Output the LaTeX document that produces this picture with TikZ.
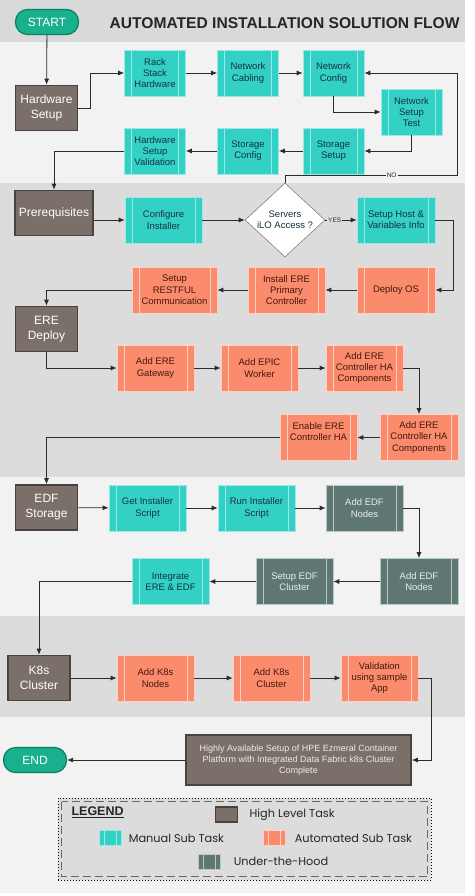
\documentclass[tikz,border=0pt]{standalone}
\usepackage{fontspec}
\setmainfont{Liberation Sans}
\newfontfamily\legfont{Poppins}
\usetikzlibrary{arrows.meta, positioning, shapes.geometric}
\definecolor{BandTitle}{HTML}{D9D9D9}
\definecolor{BandLight}{HTML}{F2F2F2}
\definecolor{BandDark}{HTML}{DCDCDC}
\definecolor{Manual}{HTML}{33D0C6}
\definecolor{ManualLine}{HTML}{9AEAE3}
\definecolor{ManualText}{HTML}{17323F}
\definecolor{Auto}{HTML}{FA8B6C}
\definecolor{AutoLine}{HTML}{FDD0C2}
\definecolor{AutoText}{HTML}{45180E}
\definecolor{Hood}{HTML}{5F7773}
\definecolor{HoodLine}{HTML}{B9CAC6}
\definecolor{HoodText}{HTML}{E8EEEC}
\definecolor{HighLvl}{HTML}{7B6F69}
\definecolor{HighEdge}{HTML}{4B423E}
\definecolor{Pill}{HTML}{19B08D}
\definecolor{PillEdge}{HTML}{0B7F62}
\definecolor{FlowLine}{HTML}{2B2B2B}

\begin{document}
\begin{tikzpicture}[
  x=1pt, y=-1pt,
  font=\fontsize{9.5}{11.3}\selectfont,
  sidebars/.style 2 args={path picture={
    \draw[#1, line width=0.8pt]
      ([xshift=#2]path picture bounding box.north west) -- ([xshift=#2]path picture bounding box.south west)
      ([xshift=-#2]path picture bounding box.north east) -- ([xshift=-#2]path picture bounding box.south east);}},
  task/.style={rectangle, minimum width=77pt, minimum height=46pt, inner sep=0pt,
               align=center, line width=0.6pt},
  manual/.style={task, fill=Manual, draw=ManualLine, text=ManualText, sidebars={ManualLine}{7pt}},
  auto/.style={task, fill=Auto, draw=AutoLine, text=AutoText, sidebars={AutoLine}{7pt}},
  hood/.style={task, fill=Hood, draw=HoodLine, text=HoodText, sidebars={HoodLine}{7pt}},
  high/.style={rectangle, fill=HighLvl, draw=HighEdge, line width=1.6pt, text=white,
               minimum width=62pt, minimum height=45pt, inner sep=1pt, align=center,
               font=\fontsize{12}{15}\selectfont},
  pill/.style={rectangle, rounded corners=12pt, fill=Pill, draw=PillEdge, line width=1.2pt,
               text=white, minimum width=63pt, minimum height=25pt,
               font=\fontsize{12}{14}\selectfont},
  decide/.style={diamond, fill=white, draw=gray, line width=0.6pt, inner sep=0pt,
                 minimum width=80pt, minimum height=61pt, align=center, text=ManualText},
  flow/.style={-{Latex[length=6pt,width=5pt]}, line width=0.8pt, draw=FlowLine},
  lbl/.style={font=\fontsize{6.5}{7}\selectfont, inner sep=1pt, text=FlowLine},
  swatch/.style={rectangle, minimum width=22pt, minimum height=15pt, inner sep=0pt, line width=0.5pt},
  legtext/.style={font=\legfont\fontsize{11.3}{13}\selectfont, text=black!85, anchor=west},
  ]
% bands
\fill[BandTitle] (0,0) rectangle (465,42);
\fill[BandLight] (0,42) rectangle (465,183);
\fill[BandDark] (0,183) rectangle (465,477);
\fill[BandLight] (0,477) rectangle (465,616);
\fill[BandDark] (0,616) rectangle (465,717);
\fill[BandLight] (0,717) rectangle (465,893);
\useasboundingbox (0,0) rectangle (474,896);

\node[pill] (start) at (47,22) {START};
\node[font=\bfseries\fontsize{15.6}{18}\selectfont, text=black!85, anchor=east] (title) at (463,23)
  {AUTOMATED INSTALLATION SOLUTION FLOW};

% hardware
\node[high] (hw) at (46.5,108) {Hardware\\Setup};
\node[manual, minimum width=61pt] (rack) at (155,73) {Rack\\Stack\\Hardware};
\node[manual, minimum width=61pt] (cabling) at (248,73) {Network\\Cabling};
\node[manual, minimum width=61pt] (netcfg) at (333.5,73) {Network\\Config};
\node[manual, minimum width=61pt] (nettest) at (411.5,112) {Network\\Setup\\Test};
\node[manual, minimum width=61pt] (stsetup) at (333.5,151) {Storage\\Setup};
\node[manual, minimum width=61pt] (stcfg) at (248,151) {Storage\\Config};
\node[manual, minimum width=61pt] (hwval) at (155,151) {Hardware\\Setup\\Validation};

% prerequisites
\node[high, minimum width=78pt] (prereq) at (54,213) {Prerequisites};
\node[manual] (cfginst) at (163.5,220) {Configure\\Installer};
\node[decide] (ilo) at (285,220) {Servers\\iLO Access ?};
\node[manual, minimum width=78pt] (hostinfo) at (396,220) {Setup Host \&\\Variables Info};
\node[auto, minimum width=78pt] (deployos) at (396,290) {Deploy OS};
\node[auto] (primary) at (286.5,290) {Install ERE\\Primary\\Controller};
\node[auto, minimum width=85pt] (restful) at (174.5,290) {Setup\\RESTFUL\\Communication};

% ere deploy
\node[high] (ere) at (46.5,329) {ERE\\Deploy};
\node[auto] (gateway) at (155.5,368) {Add ERE\\Gateway};
\node[auto] (epic) at (259.5,368) {Add EPIC\\Worker};
\node[auto] (hacompa) at (364.5,368) {Add ERE\\Controller HA\\Components};
\node[auto, minimum width=78pt] (hacompb) at (419,437.5) {Add ERE\\Controller HA\\Components};
\node[auto] (enableha) at (318.5,437.5) {Enable ERE\\Controller HA\\\phantom{A}};

% edf storage
\node[high] (edf) at (46.5,507.5) {EDF\\Storage};
\node[manual] (getscript) at (147.5,508) {Get Installer\\Script};
\node[manual] (runscript) at (256.5,508) {Run Installer\\Script};
\node[hood] (edfnodesa) at (364.5,508) {Add EDF\\Nodes};
\node[hood, minimum width=78pt] (edfnodesb) at (419,581.5) {Add EDF\\Nodes};
\node[hood] (edfcluster) at (294.5,581.5) {Setup EDF\\Cluster};
\node[manual] (integrate) at (170.5,581.5) {Integrate\\ERE \& EDF};

% k8s cluster
\node[high] (k8s) at (39,678) {K8s\\Cluster};
\node[auto] (k8snodes) at (155.5,678) {Add K8s\\Nodes};
\node[auto] (k8scluster) at (271.5,678) {Add K8s\\Cluster};
\node[auto] (validate) at (379.5,678) {Validation\\using sample\\App};
\node[high, minimum width=225pt, minimum height=50pt, text=white!92!black,
      font=\fontsize{9}{11.3}\selectfont] (done) at (298.5,760)
  {Highly Available Setup of HPE Ezmeral Container\\Platform with Integrated Data Fabric k8s Cluster\\Complete};
\node[pill] (end) at (35,760) {END};

% connectors
\draw[flow] (start) -- (hw);
\draw[flow] (hw.east) -- ++(12,0) |- (rack.west);
\draw[flow] (rack) -- (cabling);
\draw[flow] (cabling) -- (netcfg);
\draw[flow] (netcfg.south) |- (nettest.west);
\draw[flow] (nettest.south) |- (stsetup.east);
\draw[flow] (stsetup) -- (stcfg);
\draw[flow] (stcfg) -- (hwval);
\draw[flow] (hwval.west) -| (prereq.north);
\draw[flow] (prereq.east |- cfginst.west) -- (cfginst);
\draw[flow] (cfginst) -- (ilo);
\draw[flow] (ilo) -- node[lbl, pos=0.3, fill=BandDark]{YES} (hostinfo);
\coordinate (noturn) at (457,175);
\draw[flow] (ilo.north) |- node[lbl, pos=0.81, fill=BandLight]{NO} (noturn) |- (netcfg.east);
\draw[flow] (hostinfo.east) -- ++(18,0) |- (deployos.east);
\draw[flow] (deployos) -- (primary);
\draw[flow] (primary) -- (restful);
\draw[flow] (restful.west) -| (ere.north);
\draw[flow] (ere.south) |- (gateway.west);
\draw[flow] (gateway) -- (epic);
\draw[flow] (epic) -- (hacompa);
\draw[flow] (hacompa.east) -| (hacompb.north);
\draw[flow] (hacompb) -- (enableha);
\draw[flow] (enableha.west) -| (edf.north);
\draw[flow] (edf) -- (getscript);
\draw[flow] (getscript) -- (runscript);
\draw[flow] (runscript) -- (edfnodesa);
\draw[flow] (edfnodesa.east) -| (edfnodesb.north);
\draw[flow] (edfnodesb) -- (edfcluster);
\draw[flow] (edfcluster) -- (integrate);
\draw[flow] (integrate.west) -| (k8s.north);
\draw[flow] (k8s) -- (k8snodes);
\draw[flow] (k8snodes) -- (k8scluster);
\draw[flow] (k8scluster) -- (validate);
\draw[flow] (validate.east) -- ++(13,0) |- (done.east);
\draw[flow] (done) -- (end);

% legend
\node[rectangle, fill=BandDark, draw=black, dotted, line width=1pt,
      minimum width=373pt, minimum height=82pt] (legend) at (244.5,839) {};
\draw[dash pattern=on 8pt off 4pt, line width=0.6pt, draw=black!60]
  ([shift={(4,4)}]legend.north west) rectangle ([shift={(-4,-4)}]legend.south east);
\node[font=\bfseries\fontsize{12.5}{14}\selectfont, text=black!85, anchor=west] (legtitle) at (68,812) {\underline{LEGEND}};
\node[swatch, fill=HighLvl, draw=HighEdge, line width=1.2pt] (swhigh) at (226.5,814.5) {};
\node[legtext, right=8pt of swhigh] (txhigh) {High Level Task};
\node[swatch, fill=Manual, draw=ManualLine, sidebars={ManualLine}{5pt}] (swmanual) at (110,838) {};
\node[legtext, right=4pt of swmanual] (txmanual) {Manual Sub Task};
\node[swatch, fill=Auto, draw=AutoLine, sidebars={AutoLine}{5pt}] (swauto) at (274,838) {};
\node[legtext, right=6pt of swauto] (txauto) {Automated Sub Task};
\node[swatch, fill=Hood, draw=HoodLine, sidebars={HoodLine}{5pt}] (swhood) at (209,861.5) {};
\node[legtext, right=10pt of swhood] (txhood) {Under-the-Hood};
\end{tikzpicture}
\end{document}
